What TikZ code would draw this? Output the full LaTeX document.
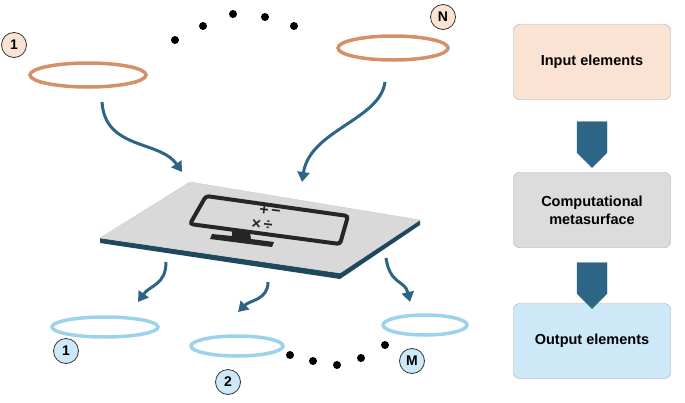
\documentclass[tikz,border=0pt]{standalone}
\usepackage{fontspec}
\setmainfont{Liberation Sans}
\usetikzlibrary{arrows.meta,shapes.arrows}
\definecolor{teal}{HTML}{2C6585}
\definecolor{inbox}{HTML}{FBE3D4}
\definecolor{midbox}{HTML}{DCDCDC}
\definecolor{outbox}{HTML}{CDE8F6}
\definecolor{ringo}{HTML}{D49068}
\definecolor{ringb}{HTML}{9CD3EA}
\begin{document}
\begin{tikzpicture}[x=1pt,y=-1pt,
  box/.style={draw=gray!70,rounded corners=6pt,minimum width=157pt,minimum height=75pt,align=center,font=\fontsize{14.5}{18}\selectfont\bfseries},
  num/.style={circle,draw=black!80,line width=0.8pt,minimum size=25pt,inner sep=0pt,font=\fontsize{14}{16}\selectfont\bfseries},
  ringO/.style={draw=ringo,line width=3.5pt},
  ringB/.style={draw=ringb,line width=3.5pt},
  curv/.style={draw=teal,line width=3pt,-{Triangle[length=10pt,width=12pt]}},
  dotc/.style={fill=black,circle,inner sep=0pt,minimum size=8pt},
  blockarrow/.style={single arrow,fill=teal,draw=teal,minimum width=30pt,single arrow head extend=0pt,minimum height=46pt,shape border rotate=270,inner sep=0pt}]
\useasboundingbox (0,0) rectangle (685,402);
% boxes
\node[box,fill=inbox] (in) at (592,62) {Input elements};
\node[box,fill=midbox] (mid) at (592,210) {Computational\\metasurface};
\node[box,fill=outbox] (out) at (592,341) {Output elements};
\node[blockarrow] (a1) at (592,137) {};
\node[blockarrow] (a2) at (592,278) {};
% rings
\draw[ringO] (88,75) ellipse [x radius=58,y radius=12];
\draw[ringO] (393,48) ellipse [x radius=55,y radius=12];
\draw[ringB] (105,327) ellipse [x radius=53,y radius=10];
\draw[ringB] (237,346) ellipse [x radius=46,y radius=10];
\draw[ringB] (425,325) ellipse [x radius=42,y radius=10];
% labels
\node[num,fill=inbox] (n1) at (14,45) {1};
\node[num,fill=inbox] (nN) at (443,17) {N};
\node[num,fill=outbox] (m1) at (66,351) {1};
\node[num,fill=outbox] (m2) at (228,382) {2};
\node[num,fill=outbox] (mM) at (412,361) {M};
% dots
\foreach \p in {(175,40),(203,26),(233,14),(265,17),(294,26),(290,355),(313,361),(337,365),(361,358),(385,345)}
  \node[dotc] at \p {};
% plate
\fill[teal!70!black] (100,238) -- (340,273) -- (420,220) -- (420,225) -- (340,279) -- (100,243) -- cycle;
\fill[black!15,draw=black!20] (190,182) -- (420,220) -- (340,273) -- (100,238) -- cycle;
% monitor
\draw[line width=4pt,rounded corners=3pt,black!85] (206,196) -- (348,216) -- (340,244) -- (190,224) -- cycle;
\fill[black!85] (232,230) -- (250,233) -- (251,239) -- (274,242) -- (272,247) -- (210,239) -- (212,234) -- (232,236) -- cycle;
\node[font=\fontsize{16}{16}\selectfont\bfseries,black!85,rotate=-7] at (270,211) {+\,\textminus};
\node[font=\fontsize{16}{16}\selectfont\bfseries,black!85,rotate=-7] at (262,225) {\texttimes\,\textdiv};
% curved arrows
\coordinate (s1) at (102,102); \coordinate (e1) at (182,172);
\draw[curv] (s1) .. controls (105,150) and (160,140) .. (e1);
\coordinate (s2) at (385,82); \coordinate (e2) at (302,182);
\draw[curv] (s2) .. controls (380,120) and (310,130) .. (e2);
\coordinate (s3) at (166,262); \coordinate (e3) at (138,302);
\draw[curv] (s3) .. controls (166,285) and (150,285) .. (e3);
\coordinate (s4) at (268,282); \coordinate (e4) at (238,312);
\draw[curv] (s4) .. controls (268,300) and (250,300) .. (e4);
\coordinate (s5) at (386,258); \coordinate (e5) at (410,302);
\draw[curv] (s5) .. controls (390,285) and (405,280) .. (e5);
\end{tikzpicture}
\end{document}
